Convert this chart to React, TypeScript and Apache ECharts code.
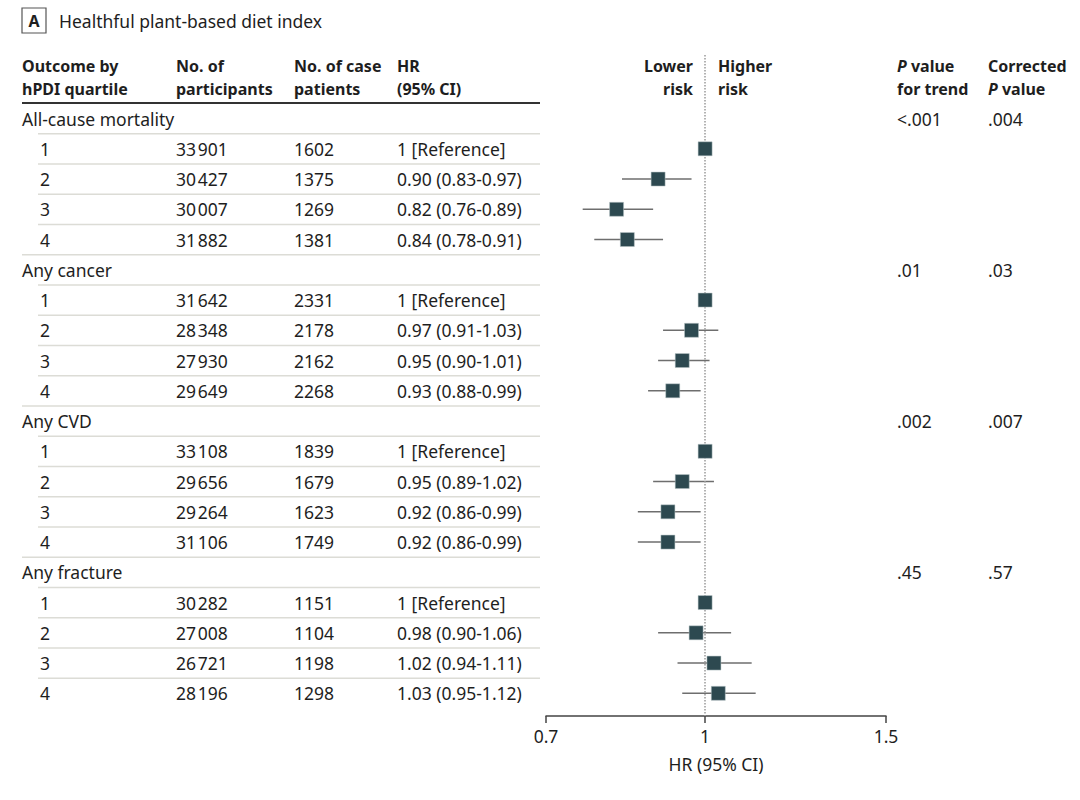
import React, { useEffect, useRef } from "react";
import * as echarts from "echarts";

// ---------- data ----------
const groups = ["All-cause mortality", "Any cancer", "Any CVD", "Any fracture"];
const quartiles = ["1", "2", "3", "4"];
const participants = [
  ["33\u200A901", "30\u200A427", "30\u200A007", "31\u200A882"],
  ["31\u200A642", "28\u200A348", "27\u200A930", "29\u200A649"],
  ["33\u200A108", "29\u200A656", "29\u200A264", "31\u200A106"],
  ["30\u200A282", "27\u200A008", "26\u200A721", "28\u200A196"],
];
const cases = [
  [1602, 1375, 1269, 1381],
  [2331, 2178, 2162, 2268],
  [1839, 1679, 1623, 1749],
  [1151, 1104, 1198, 1298],
];
const hr = [
  [1, 0.9, 0.82, 0.84],
  [1, 0.97, 0.95, 0.93],
  [1, 0.95, 0.92, 0.92],
  [1, 0.98, 1.02, 1.03],
];
const lo = [
  [null, 0.83, 0.76, 0.78],
  [null, 0.91, 0.9, 0.88],
  [null, 0.89, 0.86, 0.86],
  [null, 0.9, 0.94, 0.95],
];
const hi = [
  [null, 0.97, 0.89, 0.91],
  [null, 1.03, 1.01, 0.99],
  [null, 1.02, 0.99, 0.99],
  [null, 1.06, 1.11, 1.12],
];
const hrText = [
  ["1 [Reference]", "0.90 (0.83-0.97)", "0.82 (0.76-0.89)", "0.84 (0.78-0.91)"],
  ["1 [Reference]", "0.97 (0.91-1.03)", "0.95 (0.90-1.01)", "0.93 (0.88-0.99)"],
  ["1 [Reference]", "0.95 (0.89-1.02)", "0.92 (0.86-0.99)", "0.92 (0.86-0.99)"],
  ["1 [Reference]", "0.98 (0.90-1.06)", "1.02 (0.94-1.11)", "1.03 (0.95-1.12)"],
];
const pTrend = ["<.001", ".01", ".002", ".45"];
const pCorrected = [".004", ".03", ".007", ".57"];
const xTicks = [0.7, 1, 1.5];
const xTickLabels = ["0.7", "1", "1.5"];

const FONT = '"Noto Sans", Lato, sans-serif';
const FS = 17.5;
const FSB = 16;
const TXT = "#1e1e1e";

// ---------- derived rows ----------
type Row = { header: boolean; g: number; q: number };
const rows: Row[] = [];
groups.forEach((_, g) => {
  rows.push({ header: true, g, q: -1 });
  quartiles.forEach((_, q) => rows.push({ header: false, g, q }));
});
const rowIndex = (g: number, q: number) => g * 5 + 1 + q;

export default function App() {
  const ref = useRef<HTMLDivElement>(null);
  useEffect(() => {
    if (!ref.current) return;
    const chart = echarts.init(ref.current, undefined, { renderer: "svg" });

    const points: any[] = [];
    const cis: any[] = [];
    groups.forEach((_, g) =>
      quartiles.forEach((_, q) => {
        const r = rowIndex(g, q);
        points.push([Math.log(hr[g][q]), r]);
        if (lo[g][q] != null && hi[g][q] != null) {
          cis.push([Math.log(lo[g][q] as number), Math.log(hi[g][q] as number), r]);
        }
      })
    );

    const leftLabel = (v: number) => {
      const row = rows[Math.round(v)];
      if (!row) return "";
      if (row.header) return `{h|${groups[row.g]}}`;
      return `{q|${quartiles[row.q]}}{n|${participants[row.g][row.q]}}{c|${cases[row.g][row.q]}}{d|${hrText[row.g][row.q]}}`;
    };
    const rightLabel = (v: number) => {
      const row = rows[Math.round(v)];
      if (!row || !row.header) return "";
      return `{a|${pTrend[row.g]}}{b|${pCorrected[row.g]}}`;
    };
    const base = { fontFamily: FONT, fontSize: FS, color: TXT };

    const yMin = -2.1;
    const yMax = 19.75;

    chart.setOption({
      animation: false,
      textStyle: { fontFamily: FONT },
      grid: { left: 546, right: 194, top: 55, bottom: 84 },
      xAxis: {
        type: "value",
        min: Math.log(xTicks[0]),
        max: Math.log(xTicks[xTicks.length - 1]),
        axisLine: { show: true, onZero: false, lineStyle: { color: "#444", width: 1.5 } },
        axisTick: {
          show: true,
          customValues: xTicks.map((t) => Math.log(t)),
          length: 7,
          lineStyle: { color: "#444", width: 1.5 },
        },
        axisLabel: {
          customValues: xTicks.map((t) => Math.log(t)),
          formatter: (v: number) => {
            let best = 0;
            xTicks.forEach((t, i) => {
              if (Math.abs(Math.log(t) - v) < Math.abs(Math.log(xTicks[best]) - v)) best = i;
            });
            return xTickLabels[best];
          },
          margin: 11,
          ...base,
        },
        splitLine: { show: false },
        name: "HR (95% CI)",
        nameLocation: "middle",
        nameGap: 39,
        nameTextStyle: { ...base },
      },
      yAxis: [
        {
          type: "value",
          inverse: true,
          min: yMin,
          max: yMax,
          position: "left",
          axisLine: { show: false, onZero: false },
          axisTick: { show: false },
          splitLine: { show: false },
          axisLabel: {
            customValues: rows.map((_, i) => i),
            formatter: leftLabel,
            align: "left",
            margin: 524,
            ...base,
            rich: {
              h: { ...base },
              q: { ...base, width: 136, padding: [0, 0, 0, 18] },
              n: { ...base, width: 118 },
              c: { ...base, width: 103 },
              d: { ...base },
            },
          },
        },
        {
          type: "value",
          inverse: true,
          min: yMin,
          max: yMax,
          position: "right",
          axisLine: { show: false, onZero: false },
          axisTick: { show: false },
          splitLine: { show: false },
          axisLabel: {
            customValues: groups.map((_, g) => g * 5),
            formatter: rightLabel,
            align: "left",
            margin: 11,
            ...base,
            rich: {
              a: { ...base, width: 91 },
              b: { ...base },
            },
          },
        },
      ],
      series: [
        {
          type: "custom",
          data: cis,
          encode: { x: [0, 1], y: 2 },
          silent: true,
          renderItem: (params: any, api: any) => {
            const p1 = api.coord([api.value(0), api.value(2)]);
            const p2 = api.coord([api.value(1), api.value(2)]);
            return {
              type: "line",
              shape: { x1: p1[0], y1: p1[1], x2: p2[0], y2: p2[1] },
              style: { stroke: "#6e6e6e", lineWidth: 1.5 },
            };
          },
          z: 2,
          markLine: {
            silent: true,
            symbol: "none",
            label: { show: false },
            lineStyle: { type: "dotted", color: "#9a9a9a", width: 1.5 },
            data: [{ xAxis: 0 }],
          },
        },
        {
          type: "scatter",
          data: points,
          symbol: "rect",
          symbolSize: 14,
          itemStyle: { color: "#2d4950", opacity: 1, borderColor: "#b9c4c6", borderWidth: 0.5 },
          silent: true,
          z: 5,
        },
      ],
    });

    // graphic: title, headers, separators
    const els: any[] = [];
    const text = (t: string, x: number, y: number, opts: any = {}) => ({
      type: "text",
      silent: true,
      style: {
        text: t,
        x,
        y,
        fontFamily: FONT,
        fontSize: opts.bold ? FSB : FS,
        fontWeight: opts.bold ? "bold" : "normal",
        fill: TXT,
        align: opts.align || "left",
        textAlign: opts.align || "left",
        verticalAlign: "middle",
        textVerticalAlign: "middle",
        rich: opts.rich,
      },
    });
    els.push({
      type: "rect",
      silent: true,
      shape: { x: 22, y: 8, width: 24, height: 25 },
      style: { fill: "none", stroke: "#555", lineWidth: 1.2 },
    });
    els.push(text("A", 34, 21, { bold: true, align: "center" }));
    els.push(text("Healthful plant-based diet index", 59, 21));

    const italicRich = {
      i: { fontFamily: FONT, fontSize: FSB, fontWeight: "bold", fontStyle: "italic", fill: TXT, color: TXT },
      r: { fontFamily: FONT, fontSize: FSB, fontWeight: "bold", fill: TXT, color: TXT },
    };
    const hy1 = 66;
    const hy2 = 89;
    els.push(text("Outcome by", 22, hy1, { bold: true }));
    els.push(text("hPDI quartile", 22, hy2, { bold: true }));
    els.push(text("No. of", 176, hy1, { bold: true }));
    els.push(text("participants", 176, hy2, { bold: true }));
    els.push(text("No. of case", 294, hy1, { bold: true }));
    els.push(text("patients", 294, hy2, { bold: true }));
    els.push(text("HR", 397, hy1, { bold: true }));
    els.push(text("(95% CI)", 397, hy2, { bold: true }));
    els.push(text("Lower", 693, hy1, { bold: true, align: "right" }));
    els.push(text("risk", 693, hy2, { bold: true, align: "right" }));
    els.push(text("Higher", 718, hy1, { bold: true }));
    els.push(text("risk", 718, hy2, { bold: true }));
    els.push(text("{i|P}{r| value}", 897, hy1, { bold: true, rich: italicRich }));
    els.push(text("for trend", 897, hy2, { bold: true }));
    els.push(text("Corrected", 988, hy1, { bold: true }));
    els.push(text("{i|P}{r| value}", 988, hy2, { bold: true, rich: italicRich }));

    els.push({
      type: "line",
      silent: true,
      shape: { x1: 22, y1: 103, x2: 540, y2: 103 },
      style: { stroke: "#333", lineWidth: 2 },
    });
    for (let r = 0; r < rows.length - 1; r++) {
      const y = chart.convertToPixel({ yAxisIndex: 0 }, r + 0.5) as number;
      const x1 = rows[r + 1].header ? 22 : 38;
      els.push({
        type: "line",
        silent: true,
        shape: { x1, y1: y, x2: 540, y2: y },
        style: { stroke: "#dcdcd6", lineWidth: 1.5 },
      });
    }
    chart.setOption({ graphic: { elements: els } });

    return () => chart.dispose();
  }, []);
  return (
    <div
      ref={ref}
      style={{ position: "fixed", left: 0, top: 0, width: 1080, height: 800, background: "#fff" }}
    />
  );
}
